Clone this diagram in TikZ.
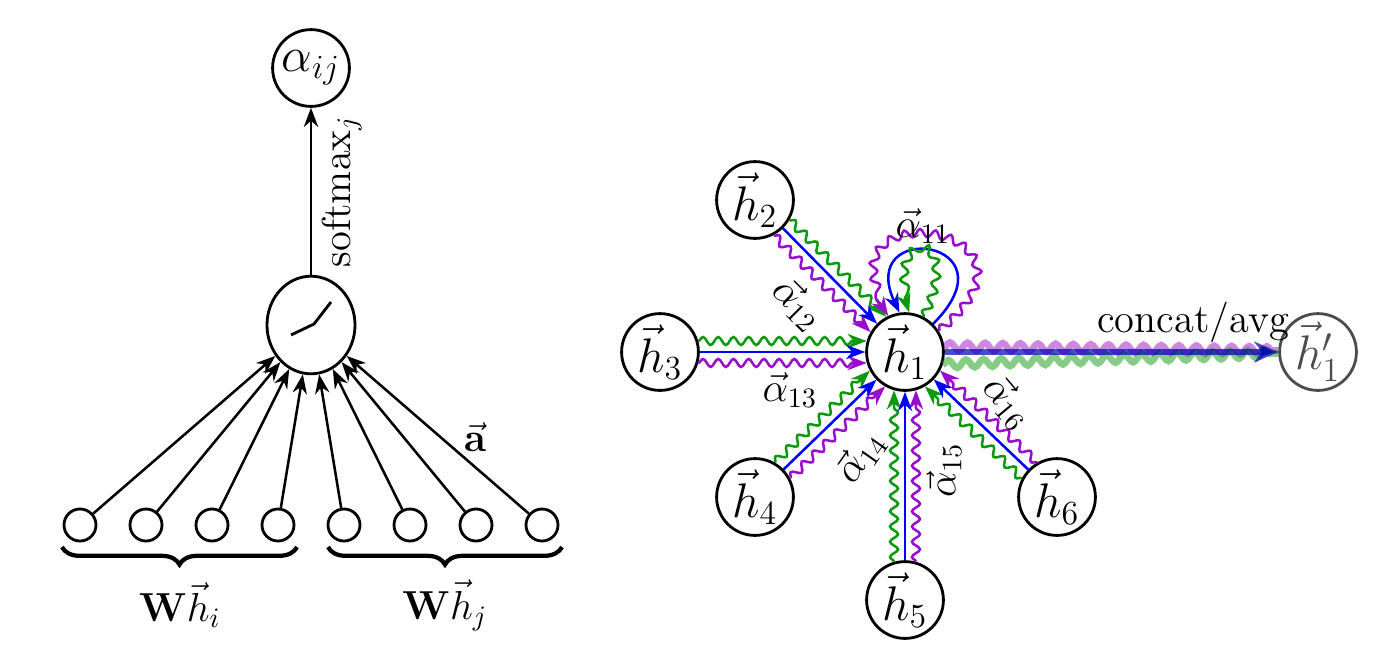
\documentclass[tikz,border=0pt]{standalone}
\usetikzlibrary{decorations.pathmorphing,decorations.pathreplacing,arrows.meta,calc,shapes.geometric}
\definecolor{gr}{rgb}{0.05,0.6,0.05}
\definecolor{pu}{rgb}{0.6,0.05,0.8}
\begin{document}
\begin{tikzpicture}[x=0.0125cm,y=-0.0125cm,>={Stealth[length=2.4mm,width=1.8mm]},
  big/.style={circle,draw,line width=1pt,minimum size=0.96cm,inner sep=0pt,font=\LARGE},
  small/.style={circle,draw,line width=1pt,minimum size=0.4cm,inner sep=0pt},
  arr/.style={->,line width=0.9pt},
  bl/.style={->,line width=0.9pt,blue},
  sn/.style={->,line width=0.9pt,decorate,decoration={snake,amplitude=0.5mm,segment length=1.9mm,post length=1.5mm}},
  brc/.style={decorate,decoration={brace,mirror,amplitude=2.2mm},line width=1.5pt},
  lab/.style={font=\Large}]
\useasboundingbox (0,0) rectangle (1382,647);
% ---------- left ----------
\node[big] (aij) at (311,68) {$\alpha_{ij}$};
\node[draw,line width=1pt,ellipse,minimum width=1.1cm,minimum height=1.22cm,inner sep=0pt] (act) at (311,325) {};
\draw[line width=1pt] (291,335) -- (314,324) -- (331,302);
\foreach \i/\x in {1/80,2/146,3/212,4/278,5/344,6/410,7/476,8/542}{
  \node[small] (n\i) at (\x,525) {};
  \draw[arr] (n\i) -- (act);
}
\draw[arr] (act) -- (aij) node[midway,sloped,below,font=\Large] {softmax$_j$};
\node[lab] (avec) at (475,437) {$\vec{\mathbf{a}}$};
\draw[brc] (62,547) -- (297,547);
\draw[brc] (328,547) -- (562,547);
\node[lab] (whi) at (180,605) {$\mathbf{W}\vec{h}_i$};
\node[lab] (whj) at (445,605) {$\mathbf{W}\vec{h}_j$};
% ---------- right ----------
\node[big] (h1) at (905,352) {$\vec{h}_1$};
\node[big] (h2) at (755,200) {$\vec{h}_2$};
\node[big] (h3) at (660,352) {$\vec{h}_3$};
\node[big] (h4) at (755,497) {$\vec{h}_4$};
\node[big] (h5) at (905,600) {$\vec{h}_5$};
\node[big] (h6) at (1057,497) {$\vec{h}_6$};
\node[big,draw=black!70,text=black!70] (h1p) at (1318,352) {$\vec{h}'_1$};
\foreach \k/\t in {2/134.6,3/180,4/224,5/270,6/316}{
  \pgfmathsetmacro{\ga}{\t+180+16}\pgfmathsetmacro{\gb}{\t-16}
  \pgfmathsetmacro{\pa}{\t+180-16}\pgfmathsetmacro{\pb}{\t+16}
  \draw[sn,gr] (h\k.\ga) -- (h1.\gb);
  \draw[sn,pu] (h\k.\pa) -- (h1.\pb);
  \draw[bl] (h\k) -- (h1);
}
% self loops
\draw[bl] (h1.45) .. controls +(45:1.5cm) and +(115:1.3cm) .. (h1.98);
\draw[sn,pu] (h1.32) .. controls +(40:2.1cm) and +(125:1.9cm) .. (h1.115);
\draw[sn,gr] (h1.62) .. controls +(65:1.2cm) and +(110:1.1cm) .. (h1.84);
% output
\draw[pu,opacity=0.5,line width=2.4pt,decorate,decoration={snake,amplitude=0.5mm,segment length=2.2mm}] (h1.8) -- (h1p.178);
\draw[gr,opacity=0.5,line width=2.4pt,decorate,decoration={snake,amplitude=0.5mm,segment length=2.2mm}] (h1.-18) -- (h1p.182);
\draw[blue!70!black,opacity=0.7,line width=2.4pt,-{Stealth[length=3mm,width=2.6mm]}] (h1) -- (h1p);
\node[font=\Large] (cat) at (1193,322) {concat/avg};
% labels
\node[lab] (a11) at (923,226) {$\vec{\alpha}_{11}$};
\node[lab,rotate=-45] (a12) at (798,304) {$\vec{\alpha}_{12}$};
\node[lab] (a13) at (790,390) {$\vec{\alpha}_{13}$};
\node[lab,rotate=55] (a14) at (860,457) {$\vec{\alpha}_{14}$};
\node[lab,rotate=90] (a15) at (944,470) {$\vec{\alpha}_{15}$};
\node[lab,rotate=-50] (a16) at (1008,402) {$\vec{\alpha}_{16}$};
\end{tikzpicture}
\end{document}
